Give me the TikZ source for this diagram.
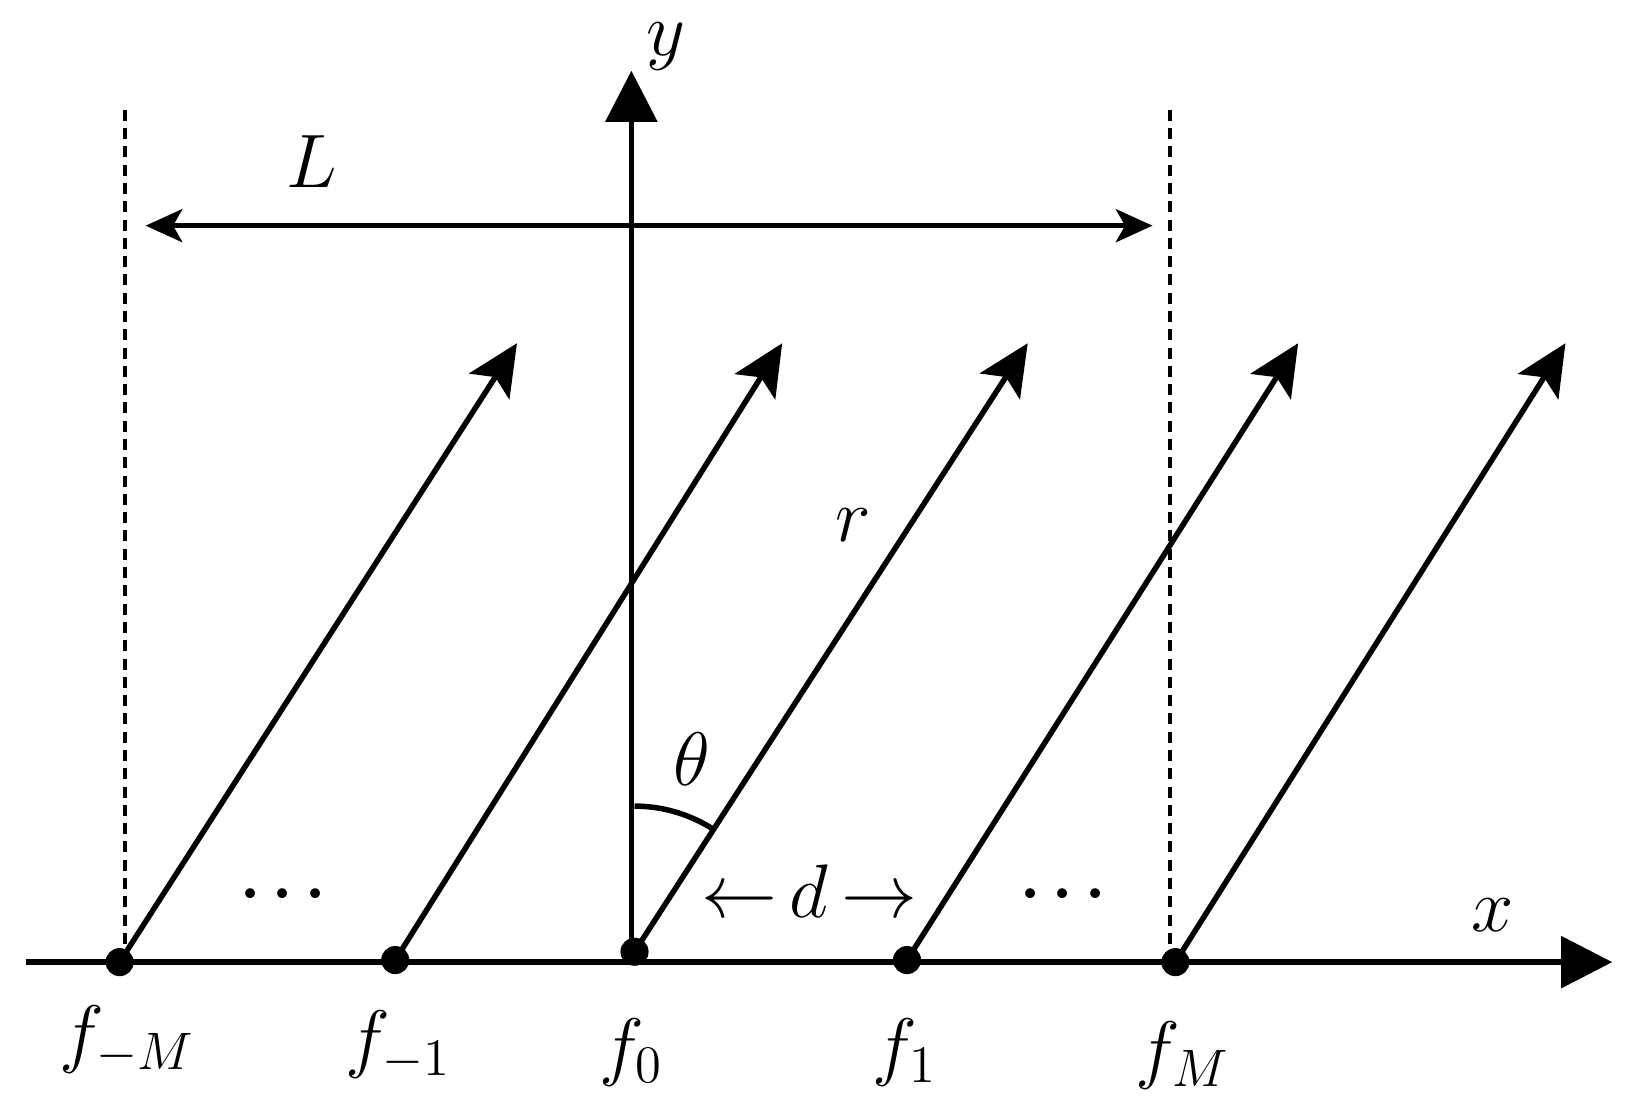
\documentclass[tikz,border=0pt]{standalone}
\usetikzlibrary{arrows.meta}
\begin{document}
\begin{tikzpicture}[x=0.01cm, y=0.01cm, line width=1.5pt, font=\fontsize{22}{26}\selectfont]
\useasboundingbox (0,0) rectangle (1568,1071);
\tikzset{elem/.style={circle, minimum size=0.27cm, inner sep=0pt, fill},
  beam/.style={-{Stealth[length=14pt, width=13pt, inset=3pt]}},
  axis/.style={-{Triangle[length=14pt, width=14pt]}},
  edge/.style={line width=1.1pt, dash pattern=on 3pt off 2pt},
  flab/.style={font=\fontsize{21}{25}\selectfont},
  etc/.style={font=\fontsize{19}{23}\selectfont\boldmath}}
\coordinate (xl) at (25,146);
\coordinate (xr) at (1550,146);
\coordinate (yb) at (607,146);
\coordinate (yt) at (607,1003);
\draw[axis](xl) -- (xr);
\draw[axis](yb) -- (yt);
\node (ylab) at (640,1026){$y$};
\node (xlab) at (1435,191){$x$};
\coordinate (eb0) at (120,146);
\coordinate (et0) at (120,966);
\coordinate (eb1) at (1125,146);
\coordinate (et1) at (1125,966);
\draw[edge](eb0) -- (et0);
\draw[edge](eb1) -- (et1);
\coordinate (la) at (140,854);
\coordinate (lb) at (1108,854);
\draw[{Stealth[length=10pt, width=9pt, inset=2.5pt]}-{Stealth[length=10pt, width=9pt, inset=2.5pt]}](la) -- (lb);
\node (llab) at (300,916){$L$};
\node[elem] (fid0) at (115,146){};
\node[elem] (fid1) at (380,148){};
\node[elem] (fid2) at (610,156){};
\node[elem] (fid3) at (872,148){};
\node[elem] (fid4) at (1130,146){};
\coordinate (tip0) at (497,741);
\coordinate (tip1) at (752,741);
\coordinate (tip2) at (988,741);
\coordinate (tip3) at (1248,741);
\coordinate (tip4) at (1505,741);
\draw[beam](fid0.center) -- (tip0);
\draw[beam](fid1.center) -- (tip1);
\draw[beam](fid2.center) -- (tip2);
\draw[beam](fid3.center) -- (tip3);
\draw[beam](fid4.center) -- (tip4);
\draw[](fid2.center) ++(0,140) arc (90:57:140);
\node (rlab) at (820,566){$r$};
\node (tlab) at (665,341){$\theta$};
\node (dlab) at (778,214){${\leftarrow}\,d\,{\rightarrow}$};
\node[etc] (dots0) at (272,211){$\cdots$};
\node[etc] (dots1) at (1022,211){$\cdots$};
\node[flab] (flab0) at (122,71){$f_{-M}$};
\node[flab] (flab1) at (383,66){$f_{-1}$};
\node[flab] (flab2) at (607,59){$f_0$};
\node[flab] (flab3) at (870,59){$f_1$};
\node[flab] (flab4) at (1137,56){$f_M$};
\end{tikzpicture}
\end{document}
